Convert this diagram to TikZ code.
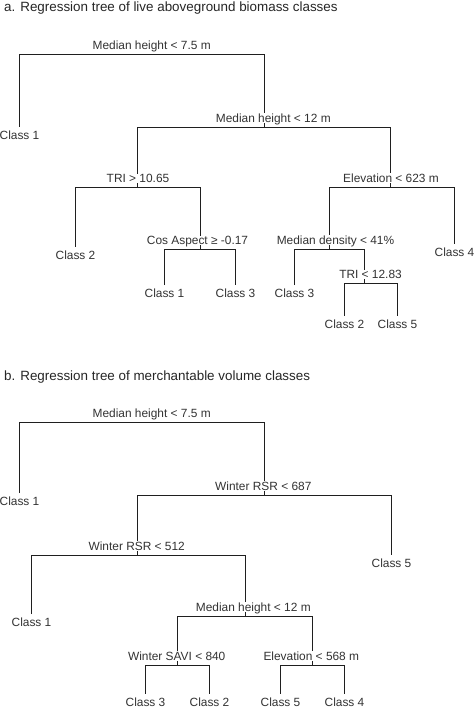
\documentclass[tikz,border=0pt]{standalone}
\usepackage{fontspec}
\setmainfont{Liberation Sans}
\newcommand\lblfont{\fontsize{11.9}{14}\selectfont}
\newcommand\ttlfont{\fontsize{13.4}{16}\selectfont}
\begin{document}
\begin{tikzpicture}[x=1pt,y=-1pt,
  treeline/.style={draw=black!88, line width=1.6pt, line join=miter},
  splitlbl/.style={font=\lblfont, text=black!80, fill=white, anchor=base, inner xsep=1pt, inner ysep=0.6pt, text depth=0pt},
  leaf/.style={font=\lblfont, text=black!80, anchor=north, inner xsep=0pt, inner ysep=0pt, outer xsep=0pt, outer ysep=4pt, text height=8.5pt, text depth=0pt},
  ttl/.style={font=\ttlfont, text=black!85, anchor=base west, inner sep=0pt}]
\useasboundingbox (0,0) rectangle (474,709);
\fill[white] (0,0) rectangle (474,709);

% ---------- Tree a ----------
\node[ttl] (ta) at (4,11.5) {a. Regression tree of live aboveground biomass classes};

\coordinate (a1) at (141.5,54.5);
\coordinate (a2) at (264.5,127.5);
\coordinate (a3) at (137.5,187.5);
\coordinate (a4) at (390.5,187.5);
\coordinate (a5) at (200.5,249.5);
\coordinate (a6) at (329.5,249.5);
\coordinate (a7) at (364.5,283.5);

\node[leaf] (la1) at (19.5,126.5) {Class 1};
\node[leaf] (la2) at (75.5,246.5) {Class 2};
\node[leaf] (la3) at (164.5,285) {Class 1};
\node[leaf] (la4) at (235.5,285) {Class 3};
\node[leaf] (la5) at (294.5,285) {Class 3};
\node[leaf] (la6) at (454.5,243.5) {Class 4};
\node[leaf] (la7) at (344.5,315.5) {Class 2};
\node[leaf] (la8) at (397.5,315.5) {Class 5};

\draw[treeline] (la1.north) |- (a1) -| (a2);
\draw[treeline] (a3) |- (a2) -| (a4);
\draw[treeline] (la2.north) |- (a3) -| (a5);
\draw[treeline] (la3.north) |- (a5) -| (la4.north);
\draw[treeline] (a6) |- (a4) -| (la6.north);
\draw[treeline] (la5.north) |- (a6) -| (a7);
\draw[treeline] (la7.north) |- (a7) -| (la8.north);

\node[splitlbl] (sa1) at (151.7,49.5) {Median height < 7.5 m};
\node[splitlbl] (sa2) at (273.3,122.5) {Median height < 12 m};
\node[splitlbl] (sa3) at (138,182.5) {TRI > 10.65};
\node[splitlbl] (sa4) at (391,182.5) {Elevation < 623 m};
\node[splitlbl] (sa5) at (197.5,244.5) {Cos Aspect ≥ -0.17};
\node[splitlbl] (sa6) at (335.5,244.5) {Median density < 41\%};
\node[splitlbl] (sa7) at (370.5,278.5) {TRI < 12.83};

% ---------- Tree b ----------
\node[ttl] (tb) at (4,380.5) {b. Regression tree of merchantable volume classes};

\coordinate (b1) at (141.5,422.5);
\coordinate (b2) at (264.5,495.5);
\coordinate (b3) at (137.5,555.5);
\coordinate (b4) at (245.5,616.5);
\coordinate (b5) at (177.5,665.5);
\coordinate (b6) at (312.5,665.5);

\node[leaf] (lb1) at (19.5,493) {Class 1};
\node[leaf] (lb2) at (391.5,555) {Class 5};
\node[leaf] (lb3) at (31.5,614) {Class 1};
\node[leaf] (lb4) at (145.5,693.5) {Class 3};
\node[leaf] (lb5) at (209.5,693.5) {Class 2};
\node[leaf] (lb6) at (280.5,693.5) {Class 5};
\node[leaf] (lb7) at (344.5,693.5) {Class 4};

\draw[treeline] (lb1.north) |- (b1) -| (b2);
\draw[treeline] (b3) |- (b2) -| (lb2.north);
\draw[treeline] (lb3.north) |- (b3) -| (b4);
\draw[treeline] (b5) |- (b4) -| (b6);
\draw[treeline] (lb4.north) |- (b5) -| (lb5.north);
\draw[treeline] (lb6.north) |- (b6) -| (lb7.north);

\node[splitlbl] (sb1) at (151.7,417.5) {Median height < 7.5 m};
\node[splitlbl] (sb2) at (263.3,490.5) {Winter RSR < 687};
\node[splitlbl] (sb3) at (136.7,550.5) {Winter RSR < 512};
\node[splitlbl] (sb4) at (253.3,611.5) {Median height < 12 m};
\node[splitlbl] (sb5) at (176.7,660.5) {Winter SAVI < 840};
\node[splitlbl] (sb6) at (311.3,660.5) {Elevation < 568 m};
\end{tikzpicture}
\end{document}
